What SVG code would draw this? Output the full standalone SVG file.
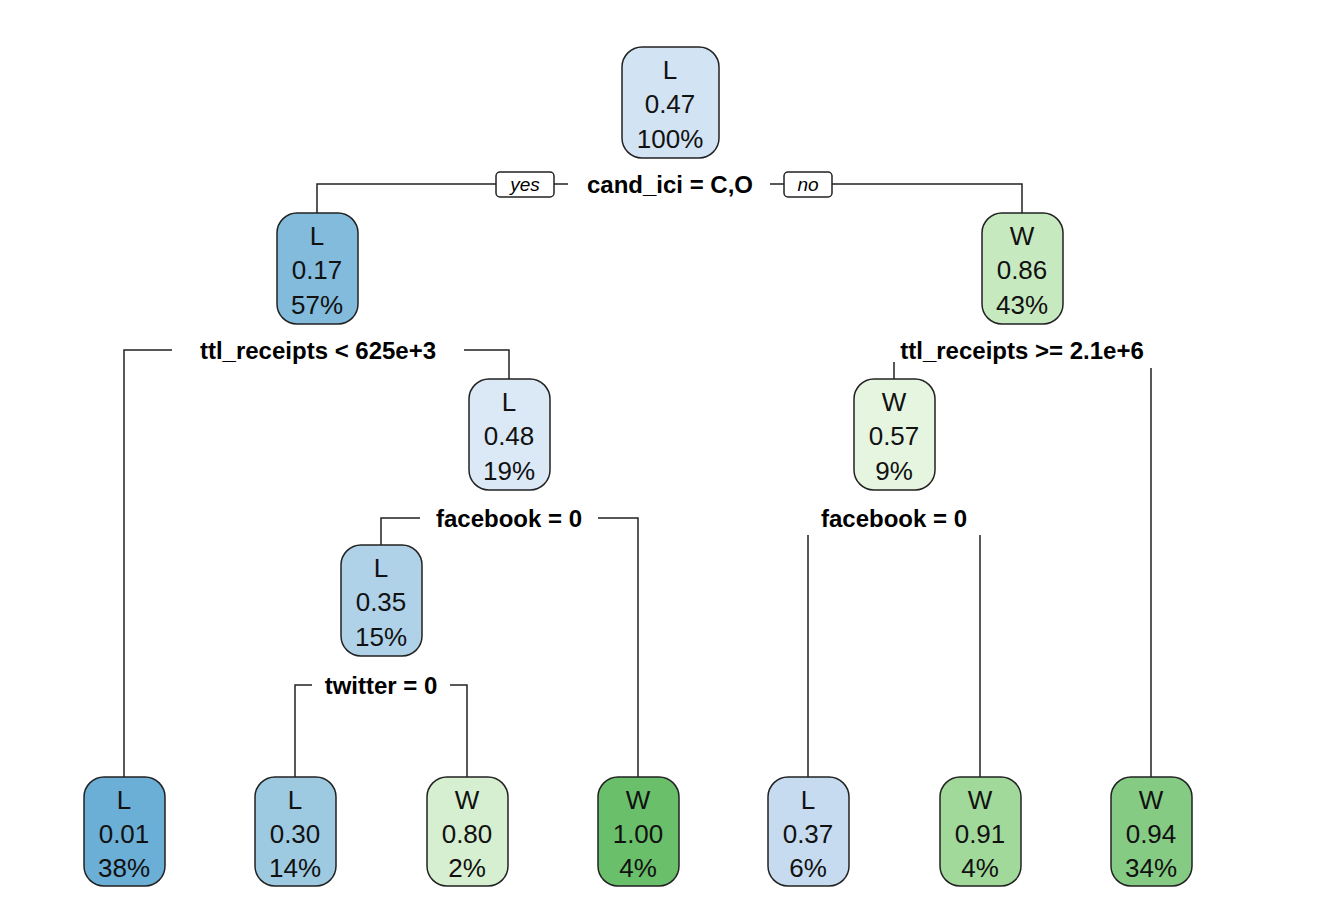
<svg xmlns="http://www.w3.org/2000/svg" width="1324" height="900" viewBox="0 0 1324 900">
<style>
.n rect{stroke:#222;stroke-width:1.5}
.n text{font-family:"Liberation Sans",Arial,sans-serif;font-size:26px;text-anchor:middle;fill:#111}
.s{font-family:"Liberation Sans",Arial,sans-serif;font-size:24px;font-weight:bold;text-anchor:middle;fill:#000}
.c path{fill:none;stroke:#222;stroke-width:1.5}
.yn{font-family:"Liberation Sans",Arial,sans-serif;font-size:19px;font-style:italic;text-anchor:middle}
</style>
<rect width="1324" height="900" fill="#fff"/>
<g class="c">
<path d="M317,213V184H496M554,184H568M770,184H784M832,184H1022V213"/>
<path d="M124,777V350H172M464,350H509V379"/>
<path d="M894,379V362M1151,368V777"/>
<path d="M381,545V518H420M598,518H638V777"/>
<path d="M808,535V777M980,535V777"/>
<path d="M295,777V685H312M450,685H467V777"/>
<rect x="496" y="172" width="58" height="25" rx="4" fill="#fff" stroke="#222" stroke-width="1.5"/>
<rect x="784" y="172" width="48" height="25" rx="4" fill="#fff" stroke="#222" stroke-width="1.5"/>
</g>
<text class="yn" x="525" y="191">yes</text>
<text class="yn" x="808" y="191">no</text>
<text class="s" x="670" y="193">cand_ici = C,O</text>
<text class="s" x="318" y="359">ttl_receipts &lt; 625e+3</text>
<text class="s" x="1022" y="359">ttl_receipts &gt;= 2.1e+6</text>
<text class="s" x="509" y="527">facebook = 0</text>
<text class="s" x="894" y="527">facebook = 0</text>
<text class="s" x="381" y="694">twitter = 0</text>
<g id="n1" class="n"><rect x="622" y="47" width="97" height="111" rx="20" fill="#d2e3f3"/><text x="670" y="79">L</text><text x="670" y="113">0.47</text><text x="670" y="148">100%</text></g>
<g id="n2" class="n"><rect x="277" y="213" width="81" height="111" rx="20" fill="#82bbdc"/><text x="317" y="245">L</text><text x="317" y="279">0.17</text><text x="317" y="314">57%</text></g>
<g id="n3" class="n"><rect x="982" y="213" width="81" height="111" rx="20" fill="#c7e9c0"/><text x="1022" y="245">W</text><text x="1022" y="279">0.86</text><text x="1022" y="314">43%</text></g>
<g id="n5" class="n"><rect x="469" y="379" width="81" height="111" rx="20" fill="#dbe9f6"/><text x="509" y="411">L</text><text x="509" y="445">0.48</text><text x="509" y="480">19%</text></g>
<g id="n6" class="n"><rect x="854" y="379" width="81" height="111" rx="20" fill="#e5f5e0"/><text x="894" y="411">W</text><text x="894" y="445">0.57</text><text x="894" y="480">9%</text></g>
<g id="n10" class="n"><rect x="341" y="545" width="81" height="111" rx="20" fill="#b0d2e8"/><text x="381" y="577">L</text><text x="381" y="611">0.35</text><text x="381" y="646">15%</text></g>
<g id="l1" class="n"><rect x="84" y="777" width="81" height="109" rx="20" fill="#6baed6"/><text x="124" y="809">L</text><text x="124" y="843">0.01</text><text x="124" y="877">38%</text></g>
<g id="l2" class="n"><rect x="255" y="777" width="81" height="109" rx="20" fill="#9ecae1"/><text x="295" y="809">L</text><text x="295" y="843">0.30</text><text x="295" y="877">14%</text></g>
<g id="l3" class="n"><rect x="427" y="777" width="81" height="109" rx="20" fill="#d6efd0"/><text x="467" y="809">W</text><text x="467" y="843">0.80</text><text x="467" y="877">2%</text></g>
<g id="l4" class="n"><rect x="598" y="777" width="81" height="109" rx="20" fill="#6abf6b"/><text x="638" y="809">W</text><text x="638" y="843">1.00</text><text x="638" y="877">4%</text></g>
<g id="l5" class="n"><rect x="768" y="777" width="81" height="109" rx="20" fill="#c6dbef"/><text x="808" y="809">L</text><text x="808" y="843">0.37</text><text x="808" y="877">6%</text></g>
<g id="l6" class="n"><rect x="940" y="777" width="81" height="109" rx="20" fill="#a1d99b"/><text x="980" y="809">W</text><text x="980" y="843">0.91</text><text x="980" y="877">4%</text></g>
<g id="l7" class="n"><rect x="1111" y="777" width="81" height="109" rx="20" fill="#86cb83"/><text x="1151" y="809">W</text><text x="1151" y="843">0.94</text><text x="1151" y="877">34%</text></g>
</svg>
